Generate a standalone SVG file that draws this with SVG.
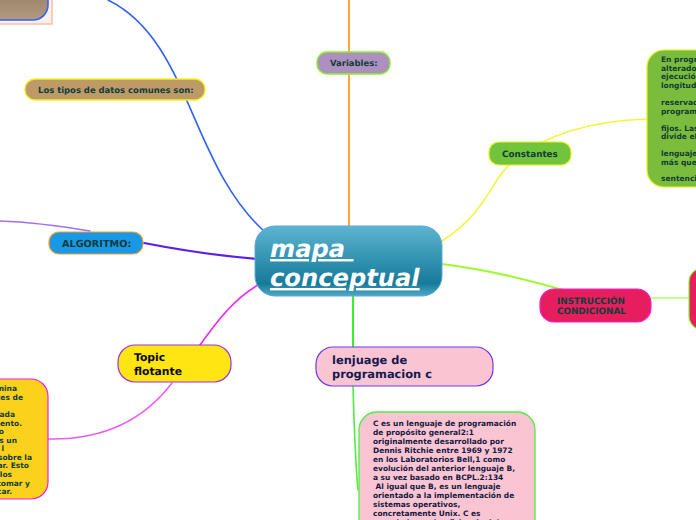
<svg xmlns="http://www.w3.org/2000/svg" width="696" height="520" viewBox="0 0 696 520">
<defs>
<linearGradient id="gc" x1="0" y1="0" x2="0" y2="1"><stop offset="0" stop-color="#5cb5d0"/><stop offset="0.82" stop-color="#167a9a"/><stop offset="1" stop-color="#4fa8c6"/></linearGradient>
<linearGradient id="gb" x1="0" y1="0" x2="0" y2="1"><stop offset="0" stop-color="#8a6f55"/><stop offset="1" stop-color="#b09a80"/></linearGradient>
</defs>
<style>
text{font-family:"DejaVu Sans",sans-serif;font-weight:700;text-rendering:geometricPrecision}
.c{fill:none;stroke-linecap:round}
.s{font-size:7.5px;fill:#0f3d35}
.p{font-size:7.45px;fill:#131a40}
.m{font-size:8.45px;fill:#0f3d3a}
.n{font-size:8.8px;fill:#0f3d3a}
</style>
<g id="connectors">
<path class="c" d="M349 0V226" stroke="#ffa733" stroke-width="2"/>
<path class="c" d="M108 0C190 40 190 165 265 232" stroke="#2f62f5" stroke-width="1.6"/>
<path class="c" d="M442 241C490 210 490 178 515 160C545 135 590 121 647 119" stroke="#f2f53a" stroke-width="1.6"/>
<path class="c" d="M442 264C490 270 530 280 570 292" stroke="#9cfa2e" stroke-width="2"/>
<path class="c" d="M650 298H690" stroke="#b5fa60" stroke-width="1.6"/>
<path class="c" d="M258 259C220 256 180 250 144 243" stroke="#5a1ff0" stroke-width="2.2"/>
<path class="c" d="M90 231C60 226 30 222 0 221" stroke="#9d6ff2" stroke-width="1.5"/>
<path class="c" d="M258 285C235 298 218 320 200 345" stroke="#e92cf0" stroke-width="1.7"/>
<path class="c" d="M172 383C140 425 95 440 48 439" stroke="#ea5cf0" stroke-width="1.5"/>
<path class="c" d="M353 296V347" stroke="#3af02c" stroke-width="2"/>
<path class="c" d="M353 386C354 420 355 460 358 490" stroke="#4ef03f" stroke-width="1.6"/>
</g>
<g id="node-imagen">
<rect x="-20" y="-30" width="72" height="54" fill="#fdf0ea" stroke="#f5bfae" stroke-width="1.5"/>
<rect x="-30" y="-30" width="78" height="50" rx="15" fill="url(#gb)" stroke="#2f62f5" stroke-width="1.5"/>
</g>
<g id="node-tipos">
<rect x="25" y="79" width="180" height="21" rx="10" fill="#bd9a68" stroke="#f2f21f" stroke-width="1.3"/>
<text class="m" x="38" y="93">Los tipos de datos comunes son:</text>
</g>
<g id="node-variables">
<rect x="317" y="52" width="73" height="22" rx="10" fill="#ae90c0" stroke="#8cf02e" stroke-width="1.3"/>
<text class="m" x="330" y="66">Variables:</text>
</g>
<g id="node-constantes">
<rect x="489" y="142" width="82" height="23" rx="10" fill="#72c43c" stroke="#e6f21f" stroke-width="1.2"/>
<text class="n" x="502" y="157">Constantes</text>
</g>
<g id="node-constantes-texto">
<rect x="647" y="50" width="80" height="137" rx="17" fill="#7cbc3c" stroke="#e6f21f" stroke-width="1.2"/>
<text class="s" x="661" y="62">En progra</text>
<text class="s" x="661" y="71">alterado</text>
<text class="s" x="661" y="79">ejecución</text>
<text class="s" x="661" y="88">longitud</text>
<text class="s" x="661" y="105">reservad</text>
<text class="s" x="661" y="114">programa</text>
<text class="s" x="661" y="131">fijos. Las</text>
<text class="s" x="661" y="139">divide el</text>
<text class="s" x="661" y="156">lenguaje</text>
<text class="s" x="661" y="165">más que</text>
<text class="s" x="661" y="181">sentencia</text>
</g>
<g id="node-instruccion">
<rect x="540" y="289" width="111" height="33" rx="14" fill="#e61e5e" stroke="#f01fd0" stroke-width="1.2"/>
<text class="n" x="557" y="304">INSTRUCCIÓN</text>
<text class="n" x="557" y="314">CONDICIONAL</text>
</g>
<g id="node-instruccion-texto">
<rect x="689" y="268" width="40" height="62" rx="14" fill="#e61e5e" stroke="#8cf02e" stroke-width="1.2"/>
</g>
<g id="node-algoritmo">
<rect x="49" y="232" width="94" height="22" rx="10" fill="#1a98e6" stroke="#f0a030" stroke-width="1.2"/>
<text x="62" y="247" font-size="9.7" fill="#0f3d3a">ALGORITMO:</text>
</g>
<g id="node-topic">
<rect x="118" y="345" width="113" height="37" rx="17" fill="#ffe512" stroke="#a030e0" stroke-width="1.2"/>
<text x="134" y="361" font-size="10.8" fill="#0a0a0a">Topic</text>
<text x="134" y="375" font-size="10.8" fill="#0a0a0a">flotante</text>
</g>
<g id="node-topic-texto">
<rect x="-40" y="379" width="88" height="120" rx="17" fill="#fcd11c" stroke="#f01fe0" stroke-width="1.2"/>
<text class="s" text-anchor="end" x="17" y="391">mina</text>
<text class="s" text-anchor="end" x="23" y="400">ces de</text>
<text class="s" text-anchor="end" x="15" y="417">cada</text>
<text class="s" text-anchor="end" x="22" y="426">mento.</text>
<text class="s" text-anchor="end" x="4" y="434">o</text>
<text class="s" text-anchor="end" x="17" y="443">s un</text>
<text class="s" text-anchor="end" x="4" y="451">l</text>
<text class="s" text-anchor="end" x="32" y="460">sobre la</text>
<text class="s" text-anchor="end" x="29" y="468">ar. Esto</text>
<text class="s" text-anchor="end" x="12" y="477">los</text>
<text class="s" text-anchor="end" x="30" y="486">tomar y</text>
<text class="s" text-anchor="end" x="12" y="494">car.</text>
</g>
<g id="node-lenguaje">
<rect x="316" y="347" width="177" height="39" rx="17" fill="#fbc4d2" stroke="#6a3ae6" stroke-width="1.2"/>
<text x="332" y="364" font-size="11.4" fill="#131a50">lenjuage de</text>
<text x="332" y="378" font-size="11.4" fill="#131a50">programacion c</text>
</g>
<g id="node-lenguaje-texto">
<rect x="359" y="412" width="176" height="130" rx="18" fill="#fbc4d2" stroke="#4ef03f" stroke-width="1.3"/>
<text class="p" x="373" y="426">C es un lenguaje de programación</text>
<text class="p" x="373" y="435">de propósito general2:1</text>
<text class="p" x="373" y="444">originalmente desarrollado por</text>
<text class="p" x="373" y="453">Dennis Ritchie entre 1969 y 1972</text>
<text class="p" x="373" y="462">en los Laboratorios Bell,1 como</text>
<text class="p" x="373" y="471">evolución del anterior lenguaje B,</text>
<text class="p" x="373" y="480">a su vez basado en BCPL.2:134</text>
<text class="p" x="373" y="489" xml:space="preserve"> Al igual que B, es un lenguaje</text>
<text class="p" x="373" y="498">orientado a la implementación de</text>
<text class="p" x="373" y="507">sistemas operativos,</text>
<text class="p" x="373" y="516">concretamente Unix. C es</text>
<text class="p" x="373" y="525">apreciado por la eficiencia del</text>
</g>
<g id="node-central">
<rect x="255" y="226" width="187" height="70" rx="20" fill="url(#gc)" stroke="#5ea8d8" stroke-width="1"/>
<text x="270" y="257" font-size="24.2" font-style="italic" fill="#fff" text-decoration="underline" xml:space="preserve">mapa </text>
<text x="270" y="286" font-size="24.2" font-style="italic" fill="#fff" text-decoration="underline">conceptual</text>
</g>
</svg>
